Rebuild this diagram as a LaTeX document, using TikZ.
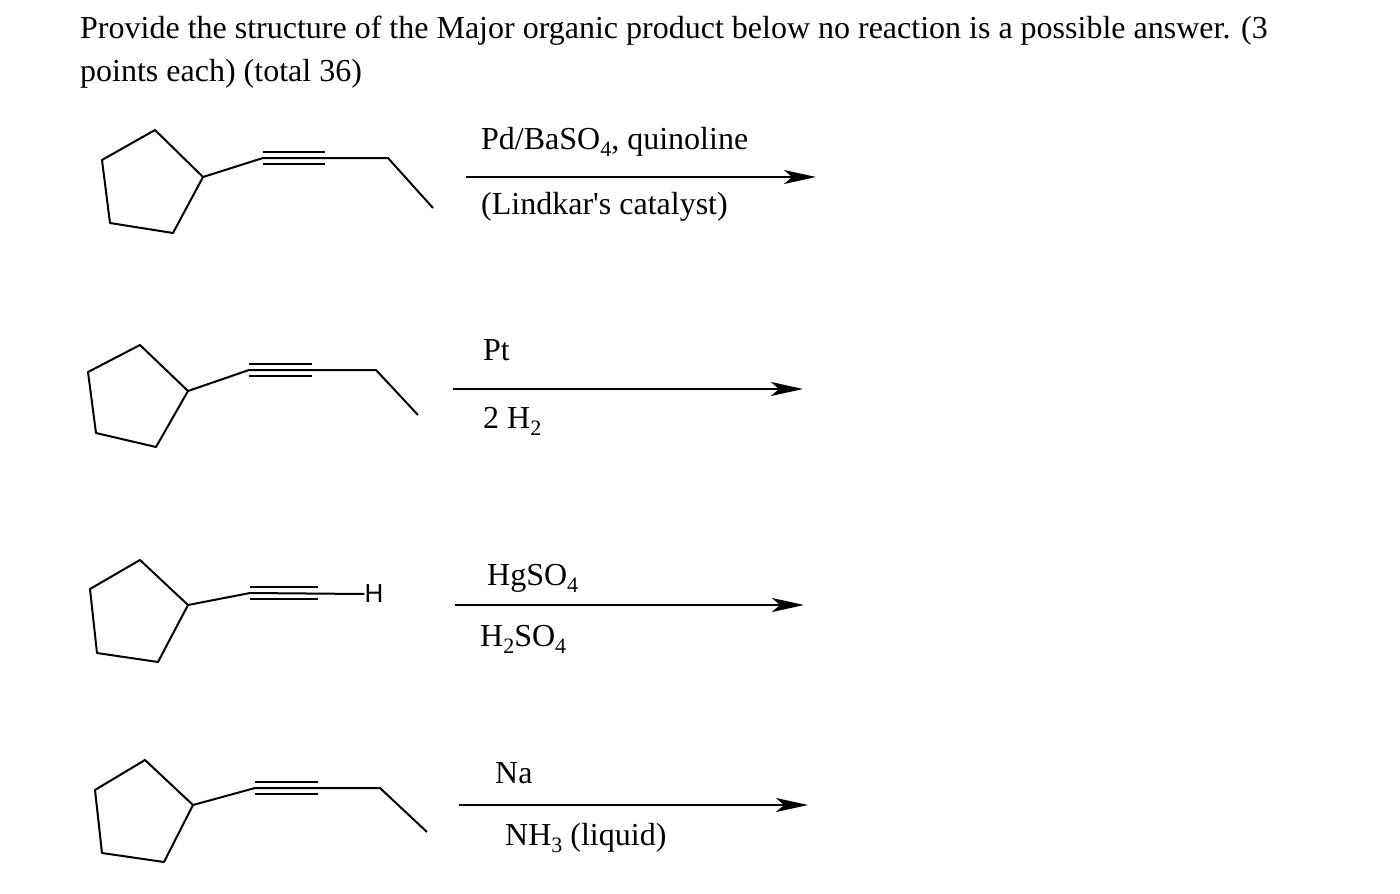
\documentclass[tikz,border=0pt]{standalone}
\usepackage{fontspec}
\setmainfont{Liberation Serif}
\newfontfamily\hsans{Liberation Sans}
\usetikzlibrary{arrows.meta}
\newcommand{\sbs}[1]{\raisebox{-0.22em}{\fontsize{22}{24}\selectfont #1}}
\begin{document}
\begin{tikzpicture}[x=1pt,y=-1pt,
  bond/.style={line width=2pt,line join=round},
  rxn/.style={line width=2.5pt,-{Stealth[length=32pt,width=14pt,inset=8pt]}},
  lbl/.style={anchor=west,inner sep=0pt,font=\fontsize{32}{36}\selectfont}]
\useasboundingbox (0,0) rectangle (1400,894);
\node[lbl,anchor=base west] (t1) at (80,38) {Provide the structure of the Major organic product below no reaction is a possible answer. (3};
\node[lbl,anchor=base west] (t2) at (80,81) {points each) (total 36)};
% molecule 1
\draw[bond] (155,130)--(203,177)--(173,233)--(110,223)--(102,160)--cycle;
\draw[bond] (203,177)--(263,158)--(388,158)--(433,208);
\draw[bond] (263,152)--(325,152) (263,164)--(325,164);
% molecule 2
\draw[bond] (140,345)--(188,391)--(156,447)--(96,433)--(88,372)--cycle;
\draw[bond] (188,391)--(249,370)--(376,370)--(418,415);
\draw[bond] (249,364)--(312,364) (249,376)--(312,376);
% molecule 3
\draw[bond] (140,560)--(188,605)--(158,662)--(97,653)--(90,589)--cycle;
\node[inner sep=0pt,font=\hsans\fontsize{26}{28}\selectfont] (h) at (374,594) {H};
\draw[bond] (188,605)--(250,593)--(h.west);
\draw[bond] (250,587)--(318,587) (250,599)--(318,599);
% molecule 4
\draw[bond] (145,760)--(193,805)--(164,862)--(102,853)--(95,790)--cycle;
\draw[bond] (193,805)--(255,788)--(380,788)--(427,832);
\draw[bond] (255,782)--(318,782) (255,794)--(318,794);
% arrows
\coordinate (a1) at (466,177); \coordinate (b1) at (816,177);
\draw[rxn] (a1)--(b1);
\node[lbl] (l1a) at (481,142) {Pd/BaSO\sbs{4}, quinoline};
\node[lbl] (l1b) at (481,207) {(Lindkar\textquotesingle s catalyst)};
\coordinate (a2) at (453,389); \coordinate (b2) at (803,389);
\draw[rxn] (a2)--(b2);
\node[lbl] (l2a) at (483,350) {Pt};
\node[lbl] (l2b) at (483,421) {2 H\sbs{2}};
\coordinate (a3) at (455,605); \coordinate (b3) at (804,605);
\draw[rxn] (a3)--(b3);
\node[lbl] (l3a) at (487,578) {HgSO\sbs{4}};
\node[lbl] (l3b) at (480,639) {H\sbs{2}SO\sbs{4}};
\coordinate (a4) at (459,805); \coordinate (b4) at (808,805);
\draw[rxn] (a4)--(b4);
\node[lbl] (l4a) at (495,773) {Na};
\node[lbl] (l4b) at (505,838) {NH\sbs{3} (liquid)};
\end{tikzpicture}
\end{document}
